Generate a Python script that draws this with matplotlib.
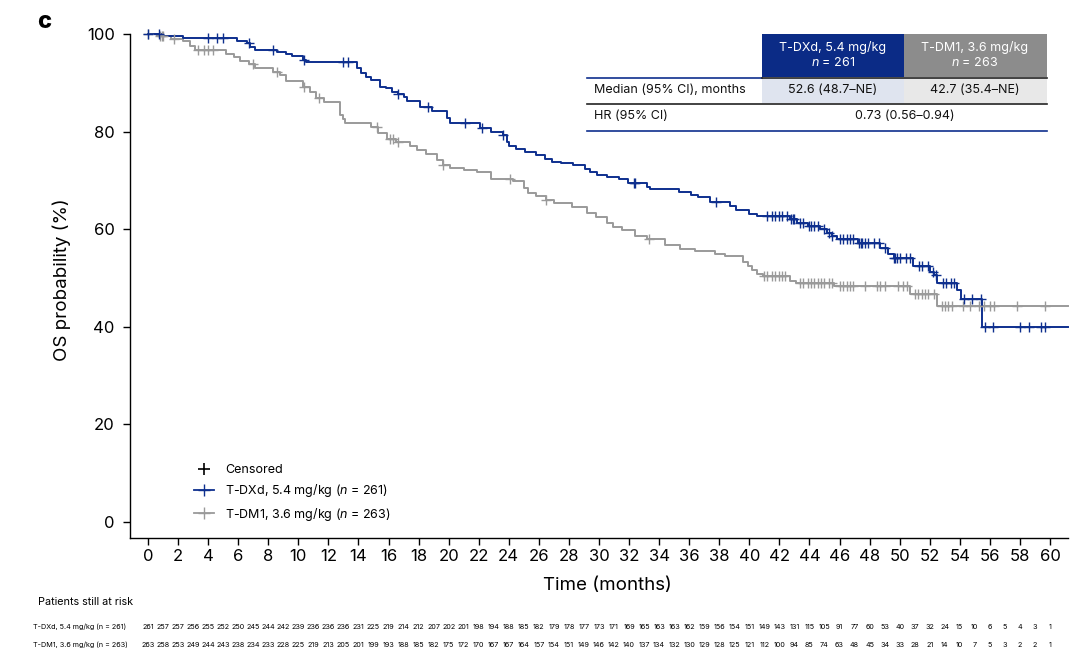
import numpy as np
import matplotlib.pyplot as plt
from matplotlib.lines import Line2D
from matplotlib.patches import Rectangle
from matplotlib.transforms import blended_transform_factory

plt.rcParams['font.family'] = ['Inter', 'DejaVu Sans']
plt.rcParams['mathtext.fontset'] = 'custom'
plt.rcParams['mathtext.rm'] = 'Inter'
plt.rcParams['mathtext.it'] = 'Inter:italic'

# --- data ---
dxd_time = [0, 1.0, 2.3, 5.9, 6.6, 6.8, 7.1, 8.6, 9.2, 9.6, 10.3, 10.5, 13.9, 14.2, 14.5, 14.8,
            15.4, 15.8, 16.2, 16.6, 17.0, 17.2, 18.1, 18.9, 19.9, 20.1, 22.1, 22.8, 23.6, 23.9,
            24.0, 24.5, 25.1, 25.8, 26.4, 26.9, 27.5, 28.3, 29.1, 29.4, 29.9, 30.5, 31.3, 31.9,
            33.2, 33.4, 35.3, 36.1, 36.6, 37.4, 38.7, 39.1, 40.0, 40.5, 42.7, 43.2, 43.9, 44.7,
            45.2, 45.5, 45.8, 47.2, 48.7, 49.2, 49.6, 50.9, 52.0, 52.3, 52.5, 53.8, 54.1, 55.5]
dxd_surv = [100, 99.6, 99.2, 98.5, 98.1, 97.3, 96.8, 96.4, 96.0, 95.4, 94.7, 94.3, 93.0, 92.0, 91.2, 90.6,
            89.2, 88.9, 88.2, 87.6, 87.0, 86.3, 85.1, 84.2, 82.8, 81.7, 80.7, 79.9, 79.3, 77.8,
            77.0, 76.4, 75.9, 75.2, 74.3, 73.8, 73.5, 73.2, 72.3, 71.8, 71.2, 70.6, 70.2, 69.5,
            68.7, 68.2, 67.7, 66.9, 66.5, 65.6, 64.7, 63.9, 63.1, 62.7, 62.0, 61.3, 60.7, 60.0,
            59.2, 58.5, 57.9, 57.1, 56.1, 55.0, 54.0, 52.5, 51.3, 50.6, 48.9, 47.5, 45.7, 40.0]
dxd_censor = [0.0, 0.7, 4.0, 4.6, 5.0, 6.7, 8.3, 10.4, 13.0, 13.3, 16.6, 18.6, 21.1, 22.2, 23.6,
              32.3, 32.4, 37.8, 41.2, 41.5, 41.7, 42.0, 42.2, 42.5, 42.8, 42.9, 43.0, 43.4, 43.6,
              44.0, 44.1, 44.3, 44.6, 45.0, 45.3, 45.5, 46.0, 46.2, 46.5, 46.7, 46.9, 47.3, 47.4,
              47.5, 47.7, 47.9, 48.3, 48.6, 49.0, 49.6, 49.7, 49.8, 50.0, 50.4, 50.7, 51.3, 51.5,
              51.9, 52.2, 52.4, 52.9, 53.1, 53.4, 53.6, 54.3, 54.8, 55.4, 55.7, 56.2, 58.0, 58.6,
              59.4, 59.7]

dm1_time = [0, 0.6, 1.5, 2.3, 2.8, 3.1, 5.2, 5.7, 6.1, 6.7, 7.1, 8.3, 8.8, 9.2, 10.3, 10.8,
            11.2, 11.7, 12.8, 13.0, 13.1, 14.8, 15.3, 15.9, 16.5, 17.4, 17.9, 18.5, 19.2, 19.6,
            20.1, 21.0, 21.9, 22.8, 24.3, 25.0, 25.3, 25.8, 26.5, 27.0, 28.2, 29.2, 29.8, 30.5,
            30.9, 31.5, 32.4, 33.2, 34.4, 35.4, 36.4, 37.7, 38.4, 39.6, 39.9, 40.2, 40.5, 40.9,
            42.7, 43.1, 45.6, 50.7, 52.5]
dm1_surv = [100, 99.5, 99.0, 98.6, 97.6, 96.7, 95.8, 95.2, 94.5, 93.8, 93.1, 92.3, 91.5, 90.4, 89.2, 88.2,
            86.8, 86.0, 83.4, 82.5, 81.7, 81.0, 79.8, 78.5, 77.8, 77.1, 76.2, 75.5, 74.2, 73.2,
            72.6, 72.1, 71.7, 70.3, 69.9, 68.4, 67.4, 66.7, 66.0, 65.3, 64.5, 63.3, 62.4, 61.3,
            60.5, 59.8, 58.6, 57.9, 56.8, 55.9, 55.6, 55.0, 54.4, 53.3, 52.5, 51.6, 50.8, 50.3,
            49.3, 48.9, 48.4, 46.7, 44.3]
dm1_censor = [0.0, 0.8, 0.9, 1.0, 1.7, 3.3, 3.7, 4.0, 4.3, 7.0, 8.6, 10.4, 11.4, 15.2, 16.1, 16.3,
              16.6, 19.6, 24.1, 26.5, 33.3, 41.0, 41.2, 41.5, 41.7, 42.0, 42.2, 42.4, 43.4, 43.6,
              43.9, 44.1, 44.3, 44.6, 44.8, 45.0, 45.3, 45.5, 46.0, 46.2, 46.5, 46.7, 46.9, 47.7,
              48.5, 48.7, 49.0, 49.9, 50.2, 50.5, 51.0, 51.2, 51.5, 51.7, 51.9, 52.3, 52.8, 53.0,
              53.2, 53.5, 54.2, 54.7, 55.3, 55.6, 56.0, 56.3, 57.8, 59.7]
last_followup = 61.2

risk_months = list(range(0, 61))
dxd_risk = [261, 257, 257, 256, 255, 252, 250, 245, 244, 242, 239, 236, 236, 236, 231, 225, 219,
            214, 212, 207, 202, 201, 198, 194, 188, 185, 182, 179, 178, 177, 173, 171, 169, 165,
            163, 163, 162, 159, 156, 154, 151, 149, 143, 131, 115, 105, 91, 77, 60, 53, 40, 37,
            32, 24, 15, 10, 6, 5, 4, 3, 1]
dm1_risk = [263, 258, 253, 249, 244, 243, 238, 234, 233, 228, 225, 219, 213, 205, 201, 199, 193,
            188, 185, 182, 175, 172, 170, 167, 167, 164, 157, 154, 151, 149, 146, 142, 140, 137,
            134, 132, 130, 129, 128, 125, 121, 112, 100, 94, 85, 74, 63, 48, 45, 34, 33, 28, 21,
            14, 10, 7, 5, 3, 2, 2, 1]

dxd_label = 'T-DXd, 5.4 mg/kg'
dm1_label = 'T-DM1, 3.6 mg/kg'
dxd_n, dm1_n = 261, 263
median_row = ['52.6 (48.7–NE)', '42.7 (35.4–NE)']
hr_text = '0.73 (0.56–0.94)'

BLUE = '#0e2f8e'
GREY = '#9a9a9a'
W, H = 1075, 660

fig = plt.figure(figsize=(W / 100, H / 100), dpi=100)
ax = fig.add_axes([130 / W, 1 - 538 / H, (1068 - 130) / W, (538 - 34) / H])


def draw_arm(times, surv, censor, color):
    t = np.append(times, last_followup)
    s = np.append(surv, surv[-1])
    ax.step(t, s, where='post', color=color, lw=1.4, clip_on=False, zorder=3)
    idx = np.searchsorted(times, censor, side='right') - 1
    ax.plot(censor, np.asarray(surv)[idx], ls='none', marker='+', ms=7, mew=1.0,
            color=color, clip_on=False, zorder=4)


draw_arm(dm1_time, dm1_surv, dm1_censor, GREY)
draw_arm(dxd_time, dxd_surv, dxd_censor, BLUE)

ax.set_xlim(-1.2, last_followup)
ax.set_ylim(-3.3, 100)
ax.set_xticks(np.arange(0, 61, 2))
ax.set_yticks(np.arange(0, 101, 20))
ax.tick_params(labelsize=12, length=5, width=1)
ax.tick_params(axis='x', pad=3)
ax.tick_params(axis='y', pad=6)
for side in ['top', 'right']:
    ax.spines[side].set_visible(False)
for side in ['left', 'bottom']:
    ax.spines[side].set_linewidth(1)
ax.set_xlabel('Time (months)', fontsize=13.5)
ax.set_ylabel('OS probability (%)', fontsize=13.5)
ax.xaxis.set_label_coords((607 - 130) / 938, -(586 - 538) / 504)
ax.yaxis.set_label_coords(-(130 - 62) / 938, (538 - 280) / 504)
ax.xaxis.label.set_va('center')
ax.yaxis.label.set_va('center')

handles = [Line2D([], [], color='black', marker='+', ls='none', ms=8, mew=1.2),
           Line2D([], [], color=BLUE, marker='+', lw=1.3, ms=8, mew=1.0),
           Line2D([], [], color=GREY, marker='+', lw=1.3, ms=8, mew=1.0)]
labels = ['Censored', f'{dxd_label} ($n$ = {dxd_n})', f'{dm1_label} ($n$ = {dm1_n})']
ax.legend(handles, labels, loc='lower left', bbox_to_anchor=(0.056, 0.008), frameon=False,
          fontsize=9, handlelength=1.65, labelspacing=0.5, handletextpad=0.85)

fig.text(37 / W, 1 - 22 / H, 'c', fontsize=17, fontweight='heavy', va='center')


# --- summary table (figure pixel layout) ---
def box(x0, y0, x1, y1, color):
    fig.add_artist(Rectangle((x0 / W, 1 - y1 / H), (x1 - x0) / W, (y1 - y0) / H,
                             transform=fig.transFigure, color=color, lw=0))


def hline(x0, x1, y, color, lw=1.2):
    fig.add_artist(Line2D([x0 / W, x1 / W], [1 - y / H] * 2, transform=fig.transFigure,
                          color=color, lw=lw))


def ftext(x, y, s, **kw):
    fig.text(x / W, 1 - y / H, s, va='center', fontsize=9, **kw)


box(762, 34, 904, 77, '#0b2b86')
box(904, 34, 1047, 77, '#8c8c8c')
box(762, 78, 904, 103, '#dfe4ef')
box(904, 78, 1047, 103, '#e8e8e8')
hline(587, 762, 77.5, BLUE)
hline(762, 1047, 77.5, '#222222')
hline(587, 1047, 103.5, '#222222')
hline(587, 1047, 130.5, BLUE)

ftext(833, 47, dxd_label, ha='center', color='white')
ftext(833, 63, f'$n$ = {dxd_n}', ha='center', color='white')
ftext(975, 47, dm1_label, ha='center', color='white')
ftext(975, 63, f'$n$ = {dm1_n}', ha='center', color='white')
ftext(594, 90, 'Median (95% CI), months', ha='left', color='#111111')
ftext(833, 90, median_row[0], ha='center', color='#111111')
ftext(975, 90, median_row[1], ha='center', color='#111111')
ftext(594, 116, 'HR (95% CI)', ha='left', color='#111111')
ftext(905, 116, hr_text, ha='center', color='#111111')

# --- patients at risk ---
fig.text(38 / W, 1 - 602 / H, 'Patients still at risk', fontsize=7.8, va='center')
fig.text(33 / W, 1 - 627 / H, f'{dxd_label} (n = {dxd_n})', fontsize=5.2, va='center')
fig.text(33 / W, 1 - 645 / H, f'{dm1_label} (n = {dm1_n})', fontsize=5.2, va='center')
trans = blended_transform_factory(ax.transData, fig.transFigure)
for m, a, b in zip(risk_months, dxd_risk, dm1_risk):
    ax.text(m, 1 - 627 / H, str(a), transform=trans, ha='center', va='center', fontsize=5.2,
            clip_on=False)
    ax.text(m, 1 - 645 / H, str(b), transform=trans, ha='center', va='center', fontsize=5.2,
            clip_on=False)

fig.savefig('out.png', dpi=100)
